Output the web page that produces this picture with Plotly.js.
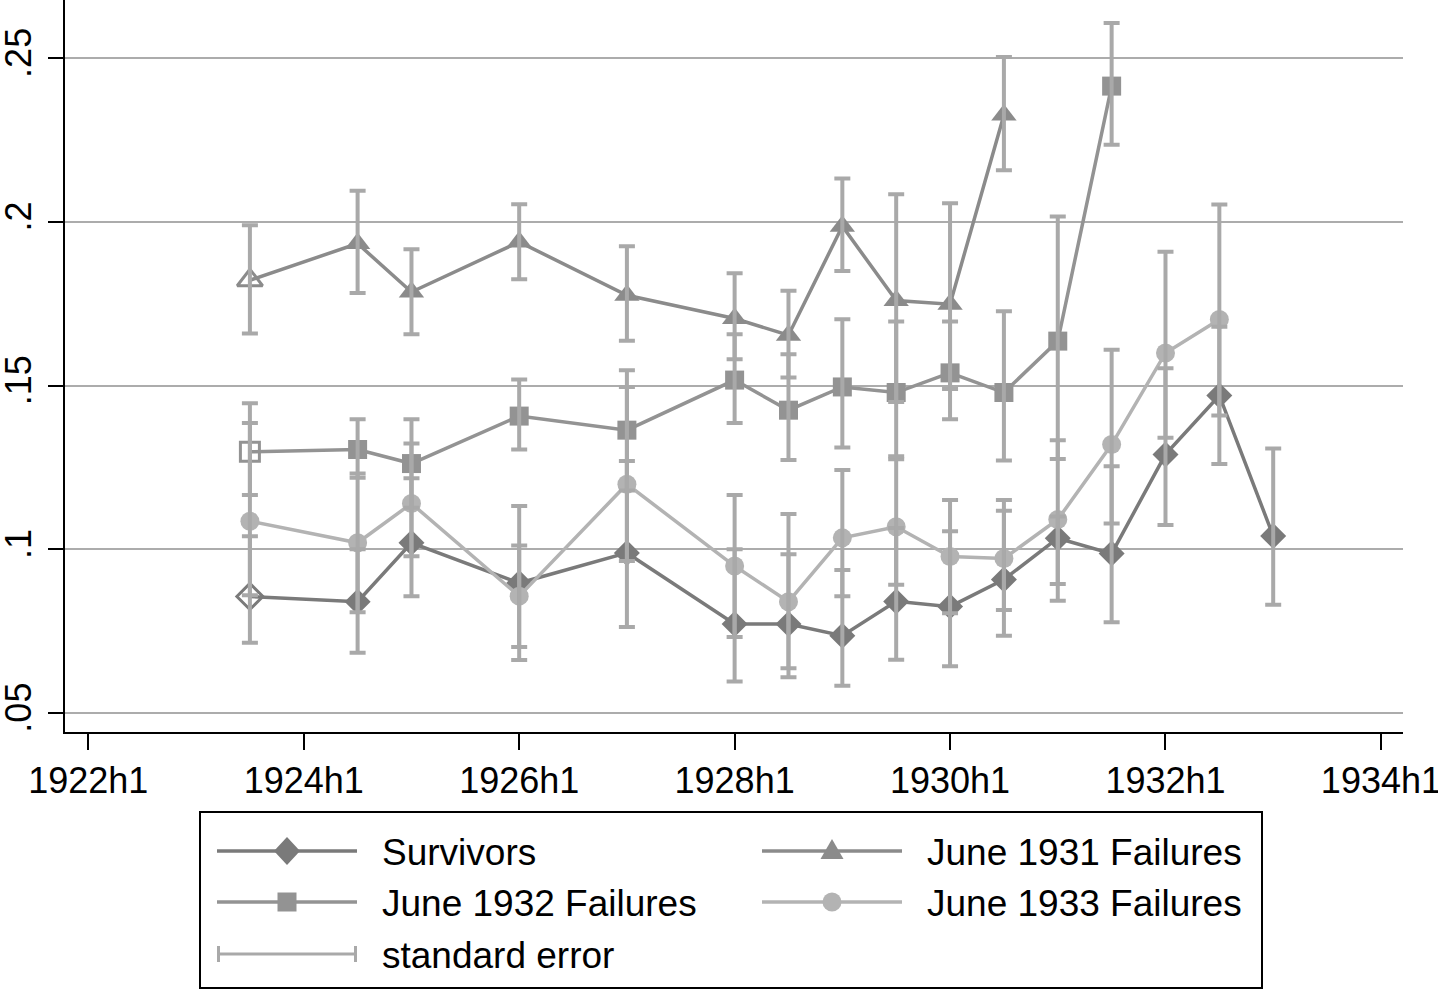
<!DOCTYPE html>
<html><head><meta charset="utf-8">
<script src="https://cdn.plot.ly/plotly-3.0.1.min.js"></script>
<style>html,body{margin:0;padding:0;background:#fff}</style>
</head><body><div id="chart" style="width:1438px;height:989px"></div>
<script>
// ---- data ----
const periods = ["1923h2","1924h2","1925h1","1926h1","1927h1","1928h1","1928h2","1929h1","1929h2","1930h1","1930h2","1931h1","1931h2","1932h1","1932h2","1933h1"];
const xTickLabels = ["1922h1","1924h1","1926h1","1928h1","1930h1","1932h1","1934h1"];
const yTickVals = [0.05, 0.1, 0.15, 0.2, 0.25];
const yTickText = [".05", ".1", ".15", ".2", ".25"];
const seriesNames = ["Survivors", "June 1931 Failures", "June 1932 Failures", "June 1933 Failures"];
const errorName = "standard error";

const survivors   = [0.0856,0.0840,0.1020,0.0897,0.0989,0.0772,0.0772,0.0736,0.0841,0.0825,0.0908,0.1034,0.0987,0.1290,0.1470,0.1041];
const survivorsHi = [0.1040,0.1000,0.1217,0.1132,0.1270,0.1000,0.0985,0.0937,0.1065,0.1055,0.1118,0.1100,0.1254,0.1553,0.1680,0.1308];
const survivorsLo = [0.0715,0.0684,0.0857,0.0662,0.0763,0.0596,0.0637,0.0583,0.0663,0.0643,0.0736,0.0894,0.0777,0.1074,0.1261,0.0831];

const fail1931   = [0.1822,0.1934,0.1786,0.1939,0.1776,0.1705,0.1654,0.1987,0.1760,0.1749,0.2327];
const fail1931Hi = [0.1990,0.2095,0.1917,0.2054,0.1926,0.1843,0.1790,0.2133,0.2085,0.2057,0.2504];
const fail1931Lo = [0.1659,0.1783,0.1657,0.1825,0.1637,0.1581,0.1525,0.1850,0.1450,0.1490,0.2158];

const fail1932   = [0.1298,0.1305,0.1262,0.1407,0.1364,0.1517,0.1425,0.1496,0.1479,0.1539,0.1479,0.1636,0.2415];
const fail1932Hi = [0.1446,0.1397,0.1397,0.1519,0.1547,0.1657,0.1596,0.1703,0.1696,0.1696,0.1727,0.2017,0.2608];
const fail1932Lo = [0.1166,0.1219,0.1127,0.1305,0.1180,0.1386,0.1273,0.1311,0.1275,0.1397,0.1271,0.1276,0.2236];

const fail1933   = [0.1086,0.1020,0.1140,0.0857,0.1199,0.0949,0.0840,0.1035,0.1069,0.0978,0.0972,0.1091,0.1320,0.1600,0.1702];
const fail1933Hi = [0.1386,0.1232,0.1323,0.1012,0.1496,0.1166,0.1108,0.1242,0.1284,0.1151,0.1151,0.1333,0.1610,0.1909,0.2053];
const fail1933Lo = [0.0860,0.0808,0.0979,0.0702,0.0964,0.0732,0.0609,0.0857,0.0892,0.0805,0.0815,0.0843,0.1079,0.1341,0.1409];

// ---- helpers ----
function halfIndex(p){ const yr = parseInt(p.slice(0,4),10); const h = parseInt(p.slice(5),10); return (yr-1922)*2 + (h-1); }

const COLORS = ["#7a7a7a", "#8b8b8b", "#939393", "#b3b3b3"];
const ERRC = "#a9a9a9";
const SYMS = ["diamond", "triangle-up", "square", "circle"];
const SIZES = [20, 22, 19, 19];
const HOLLOW = [true, true, true, false];

const seriesY  = [survivors, fail1931, fail1932, fail1933];
const seriesHi = [survivorsHi, fail1931Hi, fail1932Hi, fail1933Hi];
const seriesLo = [survivorsLo, fail1931Lo, fail1932Lo, fail1933Lo];

const traces = [];
seriesY.forEach((ys, k) => {
  const xs = periods.slice(0, ys.length).map(halfIndex);
  traces.push({
    type: 'scatter', mode: 'lines+markers', name: seriesNames[k], x: xs, y: ys,
    showlegend: false, cliponaxis: false,
    line: {color: COLORS[k], width: 3.5},
    marker: {
      color: COLORS[k], size: SIZES[k],
      symbol: ys.map((_, i) => (HOLLOW[k] && i === 0) ? SYMS[k] + '-open' : SYMS[k]),
      line: {color: COLORS[k], width: ys.map((_, i) => (HOLLOW[k] && i === 0) ? 3 : 0)}
    }
  });
});
seriesY.forEach((ys, k) => {
  const xs = periods.slice(0, ys.length).map(halfIndex);
  traces.push({
    type: 'scatter', mode: 'markers', name: errorName, x: xs, y: ys,
    showlegend: false, hoverinfo: 'skip',
    marker: {size: 1, opacity: 0},
    error_y: {type: 'data', symmetric: false,
      array: seriesHi[k].map((h, i) => h - ys[i]),
      arrayminus: seriesLo[k].map((l, i) => ys[i] - l),
      color: ERRC, thickness: 4, width: 8}
  });
});

// ---- custom legend (paper coordinates) ----
const PL = 65, PT = 0, PW = 1338, PH = 732;
const px = x => (x - PL) / PW;
const py = y => (PT + PH - y) / PH;
const shapes = [];
const annotations = [];
shapes.push({type:'rect', xref:'paper', yref:'paper', x0:px(200), x1:px(1262), y0:py(988), y1:py(812), line:{color:'#000', width:2}, fillcolor:'rgba(0,0,0,0)'});
const colX = [217, 762], rowY = [851, 902, 954];
function path(pts){ return 'M' + pts.map(p => px(p[0]) + ',' + py(p[1])).join('L') + 'Z'; }
seriesNames.forEach((nm, k) => {
  const cx0 = colX[k % 2], cy = rowY[Math.floor(k / 2)], c = COLORS[k], mx = cx0 + 70;
  shapes.push({type:'line', xref:'paper', yref:'paper', x0:px(cx0), x1:px(cx0+140), y0:py(cy), y1:py(cy), line:{color:c, width:3.5}});
  let pts;
  if (SYMS[k] === 'diamond') pts = [[mx-13,cy],[mx,cy-14],[mx+13,cy],[mx,cy+14]];
  else if (SYMS[k] === 'triangle-up') pts = [[mx-11.5,cy+8],[mx+11.5,cy+8],[mx,cy-12]];
  else if (SYMS[k] === 'square') pts = [[mx-9.5,cy-9.5],[mx+9.5,cy-9.5],[mx+9.5,cy+9.5],[mx-9.5,cy+9.5]];
  if (pts) shapes.push({type:'path', xref:'paper', yref:'paper', path:path(pts), fillcolor:c, line:{color:c, width:0}});
  else shapes.push({type:'circle', xref:'paper', yref:'paper', x0:px(mx-9.5), x1:px(mx+9.5), y0:py(cy+9.5), y1:py(cy-9.5), fillcolor:c, line:{color:c, width:0}});
  annotations.push({xref:'paper', yref:'paper', x:px(cx0+163), y:py(cy+1), xanchor:'left', yanchor:'middle', showarrow:false, text:nm, font:{size:37, color:'#000'}});
});
{
  const cx0 = colX[0], cy = rowY[2];
  shapes.push({type:'line', xref:'paper', yref:'paper', x0:px(cx0), x1:px(cx0+140), y0:py(cy), y1:py(cy), line:{color:ERRC, width:3}});
  [cx0+1.5, cx0+138.5].forEach(x => shapes.push({type:'line', xref:'paper', yref:'paper', x0:px(x), x1:px(x), y0:py(cy-8), y1:py(cy+8), line:{color:ERRC, width:3}}));
  annotations.push({xref:'paper', yref:'paper', x:px(cx0+163), y:py(cy+1), xanchor:'left', yanchor:'middle', showarrow:false, text:errorName, font:{size:37, color:'#000'}});
}

const layout = {
  width: 1438, height: 989,
  margin: {l: PL, r: 1438 - PL - PW, t: PT, b: 989 - PT - PH, pad: 0},
  paper_bgcolor: '#ffffff', plot_bgcolor: '#ffffff',
  showlegend: false,
  font: {family: '"Liberation Sans", Arial, Helvetica, sans-serif', color: '#000'},
  xaxis: {
    range: [-0.433, 24.41], tickmode: 'array',
    tickvals: xTickLabels.map(halfIndex), ticktext: xTickLabels,
    ticks: 'outside', ticklen: 16, tickwidth: 2, tickcolor: '#000',
    ticklabeloverflow: 'allow',
    showline: true, linecolor: '#000', linewidth: 2,
    showgrid: false, zeroline: false, tickfont: {size: 36, color: '#000'}
  },
  yaxis: {
    range: [0.0442, 0.2678], tickmode: 'array',
    tickvals: yTickVals, ticktext: yTickText, tickangle: -90,
    ticks: 'outside', ticklen: 15, tickwidth: 2, tickcolor: '#000',
    ticklabelstandoff: 3, ticklabeloverflow: 'allow',
    showline: true, linecolor: '#000', linewidth: 2,
    showgrid: true, gridcolor: '#acacac', gridwidth: 2,
    zeroline: false, tickfont: {size: 36, color: '#000'}
  },
  shapes: shapes, annotations: annotations
};
Plotly.newPlot('chart', traces, layout, {displayModeBar: false, staticPlot: true});
</script>
</body></html>
